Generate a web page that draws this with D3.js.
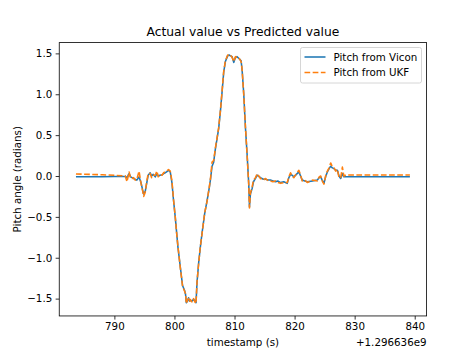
<!DOCTYPE html>
<html><head><meta charset="utf-8">
<script src="https://cdn.jsdelivr.net/npm/d3@7"></script>
<style>body{margin:0;background:#fff}svg{display:block}text{font-family:"DejaVu Sans",sans-serif;fill:#000}</style>
</head><body><svg id="c" width="474" height="355"></svg>
<script>
const time = [783.6,786,788,790,791.8,792.1,792.45,792.7,792.95,793.2,793.46,793.74,794.1,794.46,794.7,794.87,795.13,795.4,795.63,795.96,796.2,796.46,796.8,797.08,797.3,797.6,797.96,798.2,798.46,798.7,799.01,799.3,799.58,799.85,800.13,800.35,800.58,800.97,801.35,801.69,801.85,801.97,802.15,802.35,802.5,802.64,802.9,803.19,803.4,803.59,803.76,804.02,804.31,804.59,805.03,805.43,805.81,806.0,806.26,806.53,806.81,807.1,807.36,807.65,807.93,808.2,808.48,808.86,809.1,809.32,809.6,809.87,810.15,810.4,810.7,811.1,811.27,811.54,811.82,812.1,812.37,812.49,812.65,812.94,813.16,813.49,813.77,814.32,814.8,815.16,815.6,815.99,816.4,816.83,817.2,817.66,818.2,818.78,819.05,819.33,819.6,819.88,820.3,820.72,821.0,821.28,821.7,822.12,823.0,823.79,824.1,824.34,824.6,824.89,825.2,825.46,825.75,826.01,826.3,826.56,826.85,827.13,827.4,827.68,827.96,828.2,828.52,830,832,834,836,838,839.2];
const vicon = [-0.008,-0.008,-0.008,-0.007,-0.006,-0.02,0.03,-0.01,-0.02,-0.03,-0.04,-0.05,-0.01,-0.09,-0.17,-0.22,-0.19,-0.08,0.01,0.04,0.0,0.02,-0.01,0.03,0.0,0.01,0.015,0.03,0.04,0.05,0.07,0.05,-0.08,-0.3,-0.5,-0.68,-0.87,-1.11,-1.34,-1.40,-1.45,-1.55,-1.53,-1.49,-1.53,-1.52,-1.53,-1.51,-1.53,-1.55,-1.30,-1.07,-0.87,-0.70,-0.46,-0.30,-0.14,-0.04,0.12,0.17,0.33,0.46,0.58,0.79,1.03,1.27,1.40,1.47,1.48,1.47,1.46,1.39,1.45,1.46,1.44,1.41,1.29,1.00,0.59,0.26,-0.10,-0.38,-0.22,-0.15,-0.07,-0.03,0.01,-0.02,-0.04,-0.04,-0.05,-0.05,-0.06,-0.07,-0.06,-0.08,-0.07,-0.09,-0.02,0.02,0.01,-0.01,0.02,0.05,0.0,-0.05,-0.06,-0.07,-0.06,-0.05,-0.02,-0.01,-0.05,-0.09,0.0,0.05,0.09,0.12,0.10,0.09,0.07,0.07,0.0,-0.03,0.03,-0.01,-0.008,-0.008,-0.008,-0.008,-0.008,-0.008,-0.008];
const ukf = [0.025,0.02,0.015,0.008,0.003,-0.07,0.05,-0.03,-0.03,-0.02,-0.05,-0.04,0.06,-0.1,-0.18,-0.25,-0.2,-0.06,0.03,0.03,-0.02,0.01,0.01,0.06,-0.01,0.02,0.01,0.04,0.05,0.06,0.08,0.06,-0.06,-0.29,-0.5,-0.69,-0.86,-1.12,-1.35,-1.41,-1.44,-1.56,-1.52,-1.50,-1.54,-1.51,-1.54,-1.50,-1.54,-1.56,-1.29,-1.08,-0.86,-0.71,-0.45,-0.31,-0.13,-0.03,0.17,0.19,0.34,0.47,0.59,0.80,1.04,1.28,1.41,1.48,1.47,1.48,1.45,1.40,1.46,1.45,1.45,1.40,1.30,0.99,0.60,0.25,-0.11,-0.39,-0.21,-0.13,-0.05,-0.02,0.03,-0.03,-0.05,-0.03,-0.06,-0.06,-0.07,-0.06,-0.08,-0.09,-0.08,-0.08,-0.01,0.04,0.0,-0.02,0.03,0.07,0.01,-0.06,-0.05,-0.08,-0.05,-0.06,-0.01,0.0,-0.06,-0.1,0.01,0.06,0.10,0.16,0.11,0.10,0.06,0.08,-0.02,-0.02,0.11,0.0,0.012,0.012,0.012,0.012,0.012,0.012,0.012];
const xTicks = [790,800,810,820,830,840];
const yTicks = [-1.5,-1.0,-0.5,0.0,0.5,1.0,1.5];
const seriesNames = ["Pitch from Vicon","Pitch from UKF"];
const colors = ["#1f77b4","#ff7f0e"];

const W=474,H=355;
const L=W*0.125, R=W*0.9, T=H*0.12, B=H*0.89;
const svg=d3.select("#c");
const xExt=d3.extent(time), xPad=(xExt[1]-xExt[0])*0.05;
const allY=vicon.concat(ukf), yExt=d3.extent(allY), yPad=(yExt[1]-yExt[0])*0.05;
const x=d3.scaleLinear().domain([xExt[0]-xPad,xExt[1]+xPad]).range([L,R]);
const y=d3.scaleLinear().domain([yExt[0]-yPad,yExt[1]+yPad]).range([B,T]);
const fmt=v=>(v<0?"\u2212":"")+Math.abs(v).toFixed(1);

const line=d3.line().x(d=>x(d[0])).y(d=>y(d[1]));
const clip=svg.append("clipPath").attr("id","cp").append("rect").attr("x",L).attr("y",T).attr("width",R-L).attr("height",B-T);
const g=svg.append("g").attr("clip-path","url(#cp)");
g.append("path").datum(time.map((t,i)=>[t,vicon[i]])).attr("d",line).attr("fill","none").attr("stroke",colors[0]).attr("stroke-width",1.55).attr("stroke-linejoin","round");
g.append("path").datum(time.map((t,i)=>[t,ukf[i]])).attr("d",line).attr("fill","none").attr("stroke",colors[1]).attr("stroke-width",1.55).attr("stroke-dasharray","5.7,2.47").attr("stroke-linejoin","round");

// axes
const xa=svg.append("g").attr("transform",`translate(0,${B})`).call(d3.axisBottom(x).tickValues(xTicks).tickSize(3.6).tickPadding(3.4).tickFormat(d3.format("d")));
const ya=svg.append("g").attr("transform",`translate(${L},0)`).call(d3.axisLeft(y).tickValues(yTicks).tickSize(3.6).tickPadding(3.4).tickFormat(fmt));
[xa,ya].forEach(a=>{a.select(".domain").remove();a.selectAll("line").attr("stroke","#000").attr("stroke-width",0.8);a.selectAll("text").style("font-family","DejaVu Sans").style("font-size","10.3px").attr("fill","#000");});
svg.append("rect").attr("x",L).attr("y",T).attr("width",R-L).attr("height",B-T).attr("fill","none").attr("stroke","#000").attr("stroke-width",0.8);

svg.append("text").attr("x",(L+R)/2).attr("y",T-6.5).attr("text-anchor","middle").style("font-size","12.3px").text("Actual value vs Predicted value");
svg.append("text").attr("x",(L+R)/2).attr("y",345.5).attr("text-anchor","middle").style("font-size","10.3px").text("timestamp (s)");
svg.append("text").attr("x",R).attr("y",345.5).attr("text-anchor","end").style("font-size","10.3px").text("+1.296636e9");
svg.append("text").attr("transform",`translate(20.5,${(T+B)/2}) rotate(-90)`).attr("text-anchor","middle").style("font-size","10.3px").text("Pitch angle (radians)");

// legend
const lg=svg.append("g");
const lx=300.5, ly=47.5, lw=121, lh=35.5;
lg.append("rect").attr("x",lx).attr("y",ly).attr("width",lw).attr("height",lh).attr("rx",2).attr("fill","#fff").attr("fill-opacity",0.8).attr("stroke","#cccccc").attr("stroke-width",0.8);
seriesNames.forEach((n,i)=>{
  const cy=ly+9.5+i*15.5;
  lg.append("line").attr("x1",lx+4).attr("x2",lx+25).attr("y1",cy).attr("y2",cy).attr("stroke",colors[i]).attr("stroke-width",1.55).attr("stroke-dasharray",i?"5.7,2.47":null);
  lg.append("text").attr("x",lx+33).attr("y",cy+3.8).style("font-size","10.3px").text(n);
});
</script></body></html>
